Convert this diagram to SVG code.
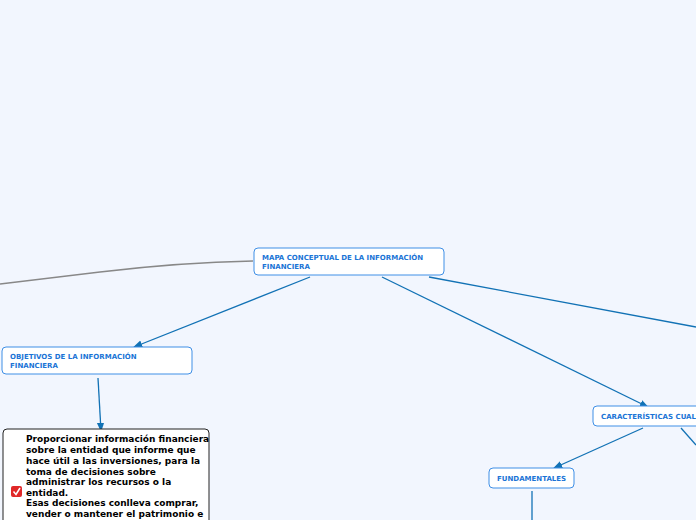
<svg xmlns="http://www.w3.org/2000/svg" width="696" height="520" viewBox="0 0 696 520">
<defs>
<style>
.n{fill:#fff;stroke:#3f8fe6;stroke-width:1}
.t{font-family:"DejaVu Sans",sans-serif;font-weight:bold;font-size:7px;fill:#1a74d6}
.b{font-family:"DejaVu Sans",sans-serif;font-weight:bold;font-size:9px;fill:#000}
.c{fill:none;stroke:#1272b5;stroke-width:1.3}
</style>
<marker id="a" viewBox="0 0 10 10" refX="9" refY="5" markerWidth="7" markerHeight="7" orient="auto"><path d="M0,1L10,5L0,9z" fill="#1272b5"/></marker>
</defs>
<rect width="696" height="520" fill="#f2f6fe"/>
<g id="connectors">
<path d="M253,261 C200,262 150,266 100,272 L0,284" fill="none" stroke="#888" stroke-width="1.3"/>
<path class="c" d="M310,277 L134,347" marker-end="url(#a)"/>
<path class="c" d="M382,277 L648,407" marker-end="url(#a)"/>
<path class="c" d="M429,277 L696,327"/>
<path class="c" d="M98,378 L101,431" marker-end="url(#a)"/>
<path class="c" d="M643,428 L554,468" marker-end="url(#a)"/>
<path class="c" d="M681,428 L696,445"/>
<path class="c" d="M532,491 L532,520"/>
</g>
<g id="root"><rect class="n" x="254" y="248" width="190" height="27" rx="4"/>
<text class="t" x="262" y="260">MAPA CONCEPTUAL DE LA INFORMACIÓN</text><text class="t" x="262" y="269">FINANCIERA</text></g>
<g id="objetivos"><rect class="n" x="2" y="347" width="190" height="27" rx="4"/>
<text class="t" x="10" y="359">OBJETIVOS DE LA INFORMACIÓN</text><text class="t" x="10" y="368">FINANCIERA</text></g>
<g id="caracteristicas"><rect class="n" x="593" y="406" width="120" height="20" rx="4"/>
<text class="t" x="601" y="419">CARACTERÍSTICAS CUALITATIVAS</text></g>
<g id="fundamentales"><rect class="n" x="489" y="468" width="85" height="20" rx="4"/>
<text class="t" x="497" y="481">FUNDAMENTALES</text></g>
<g id="texto"><rect x="3" y="429" width="206" height="100" rx="4" fill="#fff" stroke="#222"/>
<rect x="11" y="486" width="11" height="11" rx="2" fill="#e02828"/>
<path d="M13.5,491.5 L16,494.5 L20,488" stroke="#fff" stroke-width="1.5" fill="none"/>
<text class="b"><tspan x="26" y="442">Proporcionar información financiera</tspan><tspan x="26" y="453">sobre la entidad que informe que</tspan><tspan x="26" y="464">hace útil a las inversiones, para la</tspan><tspan x="26" y="475">toma de decisiones sobre</tspan><tspan x="26" y="485">administrar los recursos o la</tspan><tspan x="26" y="496">entidad.</tspan><tspan x="26" y="506">Esas decisiones conlleva comprar,</tspan><tspan x="26" y="517">vender o mantener el patrimonio e</tspan></text></g>
</svg>
